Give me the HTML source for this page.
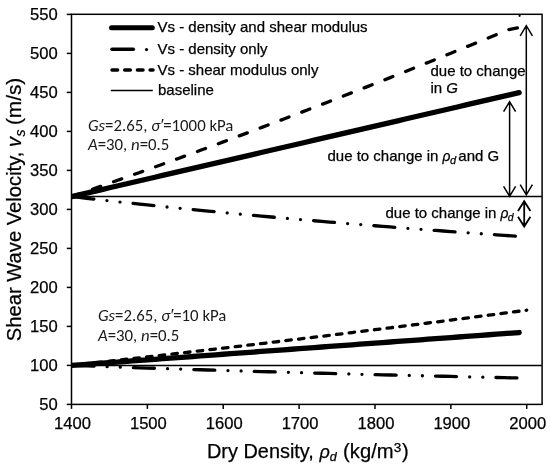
<!DOCTYPE html>
<html><head><meta charset="utf-8"><style>
html,body{margin:0;padding:0;background:#fff;}
svg{display:block;}
text{font-family:"Liberation Sans",Arial,sans-serif;fill:#000;stroke:#000;stroke-width:0.25px;}
.cal text{font-family:Carlito,"Liberation Sans",sans-serif;stroke:none;fill:#1a1a1a;}
</style></head><body>
<svg width="550" height="467" viewBox="0 0 550 467">
<rect width="550" height="467" fill="#fff"/>
<defs><clipPath id="pa"><rect x="71.5" y="14.3" width="470.6" height="390.1"/></clipPath></defs>
<g clip-path="url(#pa)"><line x1="71.5" y1="196.61" x2="541.8" y2="196.61" stroke="#000" stroke-width="1.5"/>
<path d="M71.50 196.61 L79.09 197.48 L86.67 198.35 L94.26 199.21 L101.85 200.06 L109.44 200.90 L117.02 201.73 L124.61 202.56 L132.20 203.37 L139.78 204.18 L147.37 204.98 L154.96 205.77 L162.54 206.55 L170.13 207.33 L177.72 208.09 L185.31 208.85 L192.89 209.61 L200.48 210.35 L208.07 211.09 L215.65 211.82 L223.24 212.55 L230.83 213.27 L238.41 213.98 L246.00 214.68 L253.59 215.38 L261.18 216.07 L268.76 216.76 L276.35 217.44 L283.94 218.11 L291.52 218.78 L299.11 219.44 L306.70 220.10 L314.28 220.75 L321.87 221.39 L329.46 222.03 L337.05 222.66 L344.63 223.29 L352.22 223.91 L359.81 224.53 L367.39 225.14 L374.98 225.75 L382.57 226.35 L390.15 226.95 L397.74 227.54 L405.33 228.13 L412.92 228.71 L420.50 229.29 L428.09 229.86 L435.68 230.43 L443.26 231.00 L450.85 231.55 L458.44 232.11 L466.02 232.66 L473.61 233.21 L481.20 233.75 L488.79 234.29 L496.37 234.82 L503.96 235.35 L511.55 235.88 L519.13 236.40" fill="none" stroke="#000" stroke-width="3.3" stroke-linecap="round" stroke-dasharray="21 13.15 0 13.15 0 13.15" stroke-dashoffset="-1.5"/>
<path d="M71.50 196.61 L79.09 193.96 L86.67 191.30 L94.26 188.63 L101.85 185.96 L109.44 183.27 L117.02 180.57 L124.61 177.87 L132.20 175.16 L139.78 172.43 L147.37 169.70 L154.96 166.96 L162.54 164.21 L170.13 161.45 L177.72 158.68 L185.31 155.90 L192.89 153.11 L200.48 150.32 L208.07 147.51 L215.65 144.70 L223.24 141.88 L230.83 139.05 L238.41 136.21 L246.00 133.36 L253.59 130.50 L261.18 127.63 L268.76 124.76 L276.35 121.88 L283.94 118.98 L291.52 116.08 L299.11 113.17 L306.70 110.26 L314.28 107.33 L321.87 104.39 L329.46 101.45 L337.05 98.50 L344.63 95.54 L352.22 92.57 L359.81 89.59 L367.39 86.61 L374.98 83.61 L382.57 80.61 L390.15 77.60 L397.74 74.58 L405.33 71.55 L412.92 68.52 L420.50 65.47 L428.09 62.42 L435.68 59.36 L443.26 56.29 L450.85 53.22 L458.44 50.13 L466.02 47.04 L473.61 43.94 L481.20 40.83 L488.79 37.71 L496.37 34.59 L503.96 31.46 L508.60 29.60 L517.80 27.90" fill="none" stroke="#000" stroke-width="3.3" stroke-linecap="round" stroke-dasharray="8.6 13.7"/>
<path d="M71.50 196.61 L79.09 194.85 L86.67 193.08 L94.26 191.32 L101.85 189.56 L109.44 187.79 L117.02 186.03 L124.61 184.27 L132.20 182.51 L139.78 180.74 L147.37 178.98 L154.96 177.22 L162.54 175.45 L170.13 173.69 L177.72 171.93 L185.31 170.17 L192.89 168.40 L200.48 166.64 L208.07 164.88 L215.65 163.11 L223.24 161.35 L230.83 159.59 L238.41 157.83 L246.00 156.06 L253.59 154.30 L261.18 152.54 L268.76 150.78 L276.35 149.01 L283.94 147.25 L291.52 145.49 L299.11 143.72 L306.70 141.96 L314.28 140.20 L321.87 138.44 L329.46 136.67 L337.05 134.91 L344.63 133.15 L352.22 131.38 L359.81 129.62 L367.39 127.86 L374.98 126.10 L382.57 124.33 L390.15 122.57 L397.74 120.81 L405.33 119.04 L412.92 117.28 L420.50 115.52 L428.09 113.76 L435.68 111.99 L443.26 110.23 L450.85 108.47 L458.44 106.71 L466.02 104.94 L473.61 103.18 L481.20 101.42 L488.79 99.65 L496.37 97.89 L503.96 96.13 L511.55 94.37 L519.13 92.60" fill="none" stroke="#000" stroke-width="5.3" stroke-linecap="round"/>
<line x1="71.5" y1="365.40" x2="541.8" y2="365.40" stroke="#000" stroke-width="1.5"/>
<path d="M71.50 365.40 L79.09 365.68 L86.67 365.95 L94.26 366.22 L101.85 366.49 L109.44 366.76 L117.02 367.02 L124.61 367.28 L132.20 367.54 L139.78 367.79 L147.37 368.04 L154.96 368.29 L162.54 368.54 L170.13 368.79 L177.72 369.03 L185.31 369.27 L192.89 369.51 L200.48 369.74 L208.07 369.98 L215.65 370.21 L223.24 370.44 L230.83 370.66 L238.41 370.89 L246.00 371.11 L253.59 371.33 L261.18 371.55 L268.76 371.77 L276.35 371.98 L283.94 372.20 L291.52 372.41 L299.11 372.62 L306.70 372.82 L314.28 373.03 L321.87 373.23 L329.46 373.43 L337.05 373.63 L344.63 373.83 L352.22 374.03 L359.81 374.23 L367.39 374.42 L374.98 374.61 L382.57 374.80 L390.15 374.99 L397.74 375.18 L405.33 375.36 L412.92 375.55 L420.50 375.73 L428.09 375.91 L435.68 376.09 L443.26 376.27 L450.85 376.45 L458.44 376.62 L466.02 376.79 L473.61 376.97 L481.20 377.14 L488.79 377.31 L496.37 377.48 L503.96 377.65 L511.55 377.81 L519.13 377.98" fill="none" stroke="#000" stroke-width="3.3" stroke-linecap="round" stroke-dasharray="21 13.15 0 13.15 0 13.15" stroke-dashoffset="-1.5"/>
<path d="M71.50 365.40 L79.09 364.56 L86.67 363.72 L94.26 362.88 L101.85 362.03 L109.44 361.18 L117.02 360.33 L124.61 359.48 L132.20 358.62 L139.78 357.76 L147.37 356.90 L154.96 356.03 L162.54 355.16 L170.13 354.29 L177.72 353.41 L185.31 352.53 L192.89 351.65 L200.48 350.77 L208.07 349.88 L215.65 348.99 L223.24 348.10 L230.83 347.21 L238.41 346.31 L246.00 345.41 L253.59 344.51 L261.18 343.60 L268.76 342.69 L276.35 341.78 L283.94 340.87 L291.52 339.95 L299.11 339.03 L306.70 338.11 L314.28 337.18 L321.87 336.26 L329.46 335.32 L337.05 334.39 L344.63 333.46 L352.22 332.52 L359.81 331.58 L367.39 330.63 L374.98 329.69 L382.57 328.74 L390.15 327.79 L397.74 326.83 L405.33 325.88 L412.92 324.92 L420.50 323.95 L428.09 322.99 L435.68 322.02 L443.26 321.05 L450.85 320.08 L458.44 319.11 L466.02 318.13 L473.61 317.15 L481.20 316.17 L488.79 315.18 L496.37 314.19 L503.96 313.20 L511.55 312.21 L519.13 311.22 L526.72 310.22" fill="none" stroke="#000" stroke-width="3.3" stroke-linecap="round" stroke-dasharray="5.5 7.25" stroke-dashoffset="1.0"/>
<path d="M71.50 365.40 L79.09 364.84 L86.67 364.29 L94.26 363.73 L101.85 363.17 L109.44 362.61 L117.02 362.06 L124.61 361.50 L132.20 360.94 L139.78 360.39 L147.37 359.83 L154.96 359.27 L162.54 358.71 L170.13 358.16 L177.72 357.60 L185.31 357.04 L192.89 356.49 L200.48 355.93 L208.07 355.37 L215.65 354.81 L223.24 354.26 L230.83 353.70 L238.41 353.14 L246.00 352.59 L253.59 352.03 L261.18 351.47 L268.76 350.91 L276.35 350.36 L283.94 349.80 L291.52 349.24 L299.11 348.69 L306.70 348.13 L314.28 347.57 L321.87 347.01 L329.46 346.46 L337.05 345.90 L344.63 345.34 L352.22 344.79 L359.81 344.23 L367.39 343.67 L374.98 343.11 L382.57 342.56 L390.15 342.00 L397.74 341.44 L405.33 340.89 L412.92 340.33 L420.50 339.77 L428.09 339.21 L435.68 338.66 L443.26 338.10 L450.85 337.54 L458.44 336.99 L466.02 336.43 L473.61 335.87 L481.20 335.31 L488.79 334.76 L496.37 334.20 L503.96 333.64 L511.55 333.09 L519.13 332.53" fill="none" stroke="#000" stroke-width="5.3" stroke-linecap="round"/></g>
<rect x="71.5" y="14.3" width="470.6" height="390.1" fill="none" stroke="#000" stroke-width="1.5"/>
<line x1="66.8" y1="404.40" x2="71.5" y2="404.40" stroke="#000" stroke-width="1.5"/>
<line x1="66.8" y1="365.40" x2="71.5" y2="365.40" stroke="#000" stroke-width="1.5"/>
<line x1="66.8" y1="326.40" x2="71.5" y2="326.40" stroke="#000" stroke-width="1.5"/>
<line x1="66.8" y1="287.40" x2="71.5" y2="287.40" stroke="#000" stroke-width="1.5"/>
<line x1="66.8" y1="248.40" x2="71.5" y2="248.40" stroke="#000" stroke-width="1.5"/>
<line x1="66.8" y1="209.40" x2="71.5" y2="209.40" stroke="#000" stroke-width="1.5"/>
<line x1="66.8" y1="170.40" x2="71.5" y2="170.40" stroke="#000" stroke-width="1.5"/>
<line x1="66.8" y1="131.40" x2="71.5" y2="131.40" stroke="#000" stroke-width="1.5"/>
<line x1="66.8" y1="92.40" x2="71.5" y2="92.40" stroke="#000" stroke-width="1.5"/>
<line x1="66.8" y1="53.40" x2="71.5" y2="53.40" stroke="#000" stroke-width="1.5"/>
<line x1="66.8" y1="14.40" x2="71.5" y2="14.40" stroke="#000" stroke-width="1.5"/>
<line x1="71.50" y1="404.4" x2="71.50" y2="408.9" stroke="#000" stroke-width="1.5"/>
<line x1="147.37" y1="404.4" x2="147.37" y2="408.9" stroke="#000" stroke-width="1.5"/>
<line x1="223.24" y1="404.4" x2="223.24" y2="408.9" stroke="#000" stroke-width="1.5"/>
<line x1="299.11" y1="404.4" x2="299.11" y2="408.9" stroke="#000" stroke-width="1.5"/>
<line x1="374.98" y1="404.4" x2="374.98" y2="408.9" stroke="#000" stroke-width="1.5"/>
<line x1="450.85" y1="404.4" x2="450.85" y2="408.9" stroke="#000" stroke-width="1.5"/>
<line x1="526.72" y1="404.4" x2="526.72" y2="408.9" stroke="#000" stroke-width="1.5"/>
<path d="M526.30 25.60 L526.30 194.80 M520.20 35.80 L526.30 25.60 L532.40 35.80 M520.20 184.60 L526.30 194.80 L532.40 184.60" fill="none" stroke="#000" stroke-width="1.5" stroke-linejoin="miter"/>
<path d="M509.60 101.60 L509.60 196.40 M503.60 111.60 L509.60 101.60 L515.60 111.60 M503.60 186.40 L509.60 196.40 L515.60 186.40" fill="none" stroke="#000" stroke-width="1.5" stroke-linejoin="miter"/>
<path d="M524.20 201.20 L524.20 226.60 M518.00 211.00 L524.20 201.20 L530.40 211.00 M518.00 216.80 L524.20 226.60 L530.40 216.80" fill="none" stroke="#000" stroke-width="1.8" stroke-linejoin="miter"/>

<line x1="111.5" y1="27.7" x2="152.3" y2="27.7" stroke="#000" stroke-width="5" stroke-linecap="round"/>
<line x1="112" y1="49.3" x2="133.3" y2="49.3" stroke="#000" stroke-width="3.5" stroke-linecap="round"/>
<circle cx="146.5" cy="49.6" r="1.6" fill="#000"/>
<line x1="112" y1="70" x2="153" y2="70" stroke="#000" stroke-width="3.5" stroke-linecap="round" stroke-dasharray="5.6 7.1"/>
<line x1="110.8" y1="90.6" x2="152.8" y2="90.6" stroke="#000" stroke-width="1.5"/>
<g font-size="15">
<text x="157.5" y="32.3">Vs - density and shear modulus</text>
<text x="157.5" y="54">Vs - density only</text>
<text x="157.5" y="74.6">Vs - shear modulus only</text>
<text x="158" y="95.3">baseline</text>
</g>

<g font-size="16.6"><text x="57.8" y="409.50" text-anchor="end">50</text><text x="57.8" y="370.50" text-anchor="end">100</text><text x="57.8" y="331.50" text-anchor="end">150</text><text x="57.8" y="292.50" text-anchor="end">200</text><text x="57.8" y="253.50" text-anchor="end">250</text><text x="57.8" y="214.50" text-anchor="end">300</text><text x="57.8" y="175.50" text-anchor="end">350</text><text x="57.8" y="136.50" text-anchor="end">400</text><text x="57.8" y="97.50" text-anchor="end">450</text><text x="57.8" y="58.50" text-anchor="end">500</text><text x="57.8" y="19.50" text-anchor="end">550</text><text x="72.50" y="429" text-anchor="middle">1400</text><text x="148.37" y="429" text-anchor="middle">1500</text><text x="224.24" y="429" text-anchor="middle">1600</text><text x="300.11" y="429" text-anchor="middle">1700</text><text x="375.98" y="429" text-anchor="middle">1800</text><text x="451.85" y="429" text-anchor="middle">1900</text><text x="527.72" y="429" text-anchor="middle">2000</text></g>

<g class="cal" font-size="16.8">
<text x="88" y="130.6" textLength="145.4" lengthAdjust="spacingAndGlyphs"><tspan font-style="italic">Gs</tspan>=2.65, <tspan font-style="italic">σ′</tspan>=1000 kPa</text>
<text x="88" y="150.1" textLength="81.3" lengthAdjust="spacingAndGlyphs"><tspan font-style="italic">A</tspan>=30, <tspan font-style="italic">n</tspan>=0.5</text>
<text x="98" y="321.3" textLength="128.4" lengthAdjust="spacingAndGlyphs"><tspan font-style="italic">Gs</tspan>=2.65, <tspan font-style="italic">σ′</tspan>=10 kPa</text>
<text x="98" y="340.6" textLength="81.3" lengthAdjust="spacingAndGlyphs"><tspan font-style="italic">A</tspan>=30, <tspan font-style="italic">n</tspan>=0.5</text>
</g>
<g font-size="15">
<text x="430.5" y="76.2">due to change</text>
<text x="430.5" y="92.7">in <tspan font-style="italic">G</tspan></text>
<text x="327.5" y="161.3">due to change in</text>
<text x="442.6" y="161.3" font-style="italic" font-size="13.8">ρ</text>
<text x="450" y="164.3" font-style="italic" font-size="11">d</text>
<text x="458.3" y="161.3">and G</text>
<text x="385.5" y="217.5">due to change in <tspan font-style="italic" font-size="13.8">ρ</tspan><tspan font-style="italic" font-size="10.5" dy="3" dx="-0.8">d</tspan></text>
</g>


<g font-size="20.2">
<text x="207" y="457.7" font-size="19.9">Dry Density,</text>
<text x="319.6" y="457.7" font-style="italic" font-size="18">ρ</text>
<text x="329.8" y="460.9" font-style="italic" font-size="12.5">d</text>
<text x="343.1" y="457.7">(kg/m</text>
<text x="393.8" y="451.9" font-size="13.6">3</text>
<text x="401.9" y="457.7">)</text>
</g>
<g transform="translate(20.6,338.6) rotate(-90)" font-size="20.2">
<text x="-2.6" y="0">Shear Wave Velocity,</text>
<text x="191.5" y="0" font-style="italic">v</text>
<text x="202.2" y="4.1" font-size="14" font-style="italic">s</text>
<text x="213.5" y="0" font-size="20.8">(m/s)</text>
</g>


<circle cx="519.6" cy="15.8" r="1.1" fill="#000"/>
</svg>
</body></html>
